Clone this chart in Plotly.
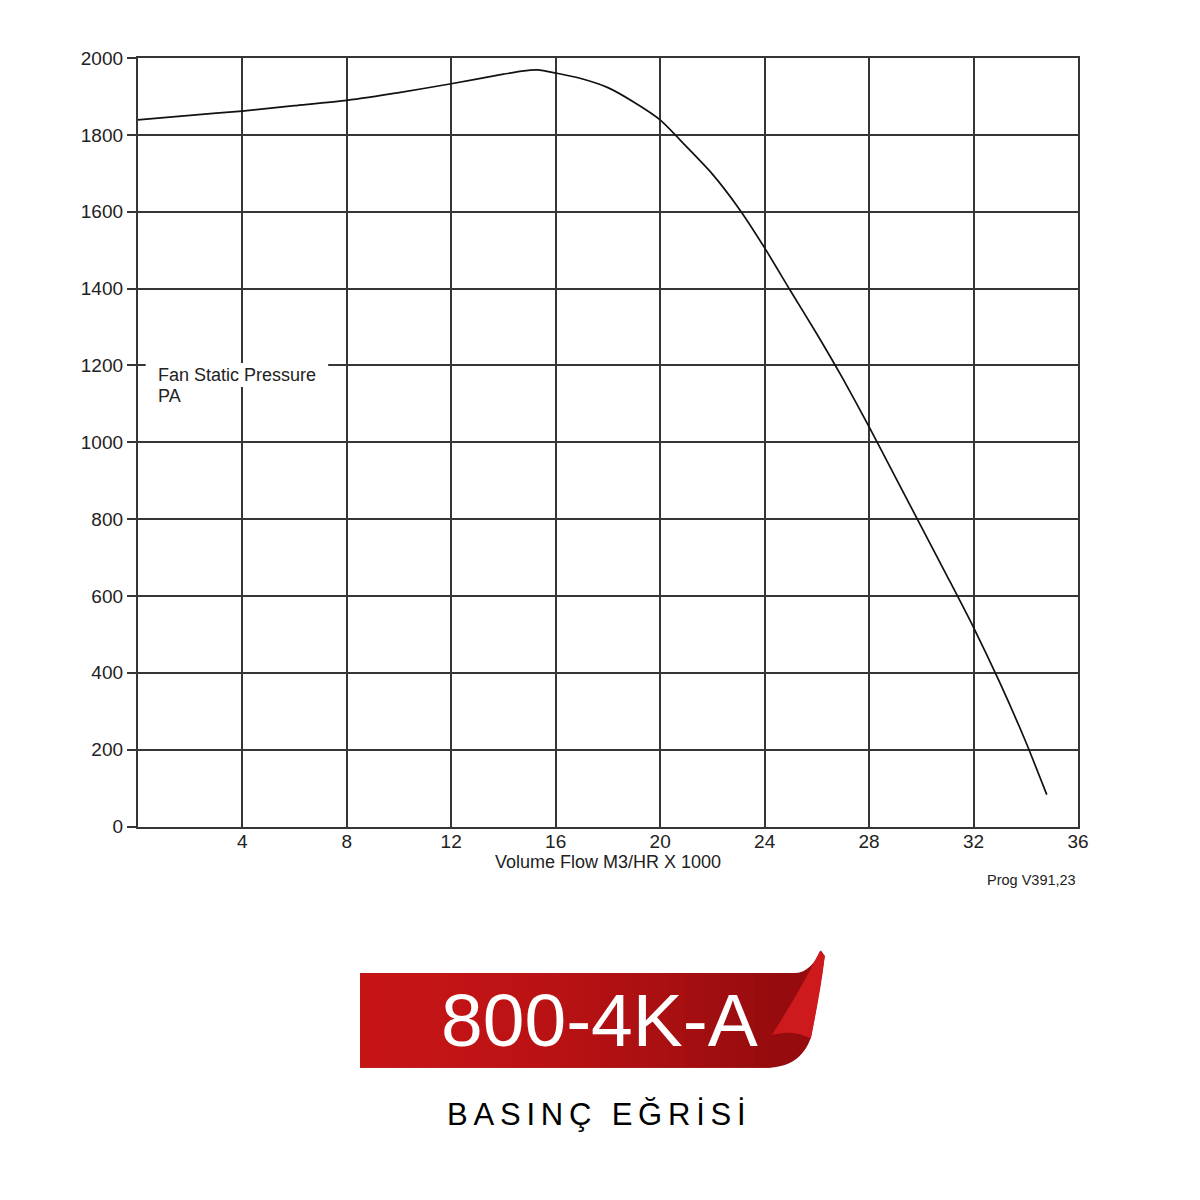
import plotly.graph_objects as go

# --- data ---
flow = [0, 2, 4, 6, 8, 10, 12, 14, 14.7, 15.3, 16, 17, 18, 19, 20, 21,
        22, 23, 24, 25, 26, 27, 28, 29, 30, 31, 32, 33, 34, 34.8]
pressure = [1839, 1851, 1862, 1876, 1890, 1910, 1933, 1958, 1966, 1969,
            1961, 1946, 1923, 1885, 1839, 1770, 1698, 1610, 1506, 1393, 1282,
            1165, 1040, 910, 780, 650, 518, 375, 220, 83]

x_ticks = [4, 8, 12, 16, 20, 24, 28, 32, 36]
y_ticks = [0, 200, 400, 600, 800, 1000, 1200, 1400, 1600, 1800, 2000]

x_title = "Volume Flow M3/HR X 1000"
y_label = ["Fan Static Pressure", "PA"]
prog_note = "Prog V391,23"
model = "800-4K-A"
subtitle = "BASINÇ EĞRİSİ"

W = H = 1200
FONT = "Liberation Sans, Arial, sans-serif"
GRID = "#363636"

# the photographed page comes out slightly scaled/shifted; undo that here
SX, OX = 0.9936, -1.1
SY, OY = 0.9857, 8.8


def px(X):
    return ((X - OX) / SX) / W


def py(Y):
    return 1 - ((Y - OY) / SY) / H


def path(pts):
    # pts: list of (cmd, [x, y, ...]) in pixels -> svg path in paper coords
    out = []
    for cmd, vals in pts:
        coords = []
        for i in range(0, len(vals), 2):
            coords.append(f"{px(vals[i]):.5f},{py(vals[i + 1]):.5f}")
        out.append(cmd + " " + " ".join(coords))
    return " ".join(out) + " Z"


fig = go.Figure()
fig.add_trace(go.Scatter(
    x=flow, y=pressure, mode="lines",
    line=dict(color="#111111", width=1.7, shape="spline", smoothing=0.6),
    hoverinfo="skip", showlegend=False,
))

shapes = []
# white patch behind the axis caption
shapes.append(dict(
    type="rect", xref="paper", yref="paper", line=dict(width=0),
    fillcolor="white", layer="above",
    x0=px(145), x1=px(328), y0=py(387), y1=py(363),
))

# --- red ribbon banner ---
shapes.append(dict(
    type="path", xref="paper", yref="paper", line=dict(width=0),
    fillcolor="rgb(150,12,14)",
    path=path([("M", [360, 975]), ("L", [795, 975]),
               ("C", [808, 975, 816, 965, 822, 952]),
               ("L", [826, 958]),
               ("C", [822, 985, 817, 1015, 812, 1040]),
               ("C", [805, 1060, 790, 1070, 768, 1070]),
               ("L", [360, 1070])]),
))
n = 24
x0, x1 = 360, 772
c0, c1 = (198, 20, 22), (152, 12, 14)
for i in range(n):
    t = i / (n - 1)
    t = t ** 1.6
    col = tuple(round(c0[k] + (c1[k] - c0[k]) * t) for k in range(3))
    a = x0 + (x1 - x0) * i / n
    b = x0 + (x1 - x0) * (i + 1) / n + 0.6
    shapes.append(dict(
        type="rect", xref="paper", yref="paper", line=dict(width=0),
        fillcolor=f"rgb{col}",
        x0=px(a), x1=px(b), y0=py(1070), y1=py(975),
    ))
# peeled corner
shapes.append(dict(
    type="path", xref="paper", yref="paper", line=dict(width=0),
    fillcolor="rgb(206,26,28)",
    path=path([("M", [821, 953]),
               ("C", [805, 985, 790, 1010, 773, 1037]),
               ("C", [790, 1033, 802, 1035, 812, 1041]),
               ("C", [818, 1010, 823, 985, 826, 958])]),
))

annotations = [
    dict(text=y_label[0], x=px(155), y=py(375), xref="paper", yref="paper",
         xanchor="left", yanchor="middle", showarrow=False,
         font=dict(family=FONT, size=18, color="#222222")),
    dict(text=y_label[1], x=px(155), y=py(396), xref="paper", yref="paper",
         xanchor="left", yanchor="middle", showarrow=False,
         font=dict(family=FONT, size=18, color="#222222")),
    dict(text=x_title, x=px(609), y=py(864), xref="paper", yref="paper",
         xanchor="center", yanchor="middle", showarrow=False,
         font=dict(family=FONT, size=18, color="#222222")),
    dict(text=prog_note, x=px(1080), y=py(882), xref="paper", yref="paper",
         xanchor="right", yanchor="middle", showarrow=False,
         font=dict(family=FONT, size=14.5, color="#222222")),
    dict(text=model, x=px(600), y=py(1022), xref="paper", yref="paper",
         xanchor="center", yanchor="middle", showarrow=False,
         font=dict(family=FONT, size=75, color="white")),
    dict(text=f'<span style="letter-spacing:5.8px">{subtitle}</span>',
         x=px(600), y=py(1117), xref="paper", yref="paper",
         xanchor="center", yanchor="middle", showarrow=False,
         font=dict(family=FONT, size=31, color="black")),
]

fig.update_layout(
    width=W, height=H,
    margin=dict(l=0, r=0, t=0, b=0),
    paper_bgcolor="white", plot_bgcolor="white",
    shapes=shapes, annotations=annotations,
    xaxis=dict(
        domain=[px(137), px(1080)], range=[0, 36],
        tickvals=x_ticks, ticktext=[str(v) for v in x_ticks],
        showgrid=True, gridcolor=GRID, gridwidth=1.5,
        showline=True, linecolor=GRID, linewidth=1.7, mirror=True,
        ticks="", zeroline=False, ticklabelstandoff=-3,
        tickfont=dict(family=FONT, size=19, color="#222222"),
    ),
    yaxis=dict(
        domain=[py(828), py(57)], range=[0, 2000],
        tickvals=y_ticks, ticktext=[str(v) for v in y_ticks],
        showgrid=True, gridcolor=GRID, gridwidth=1.5,
        showline=True, linecolor=GRID, linewidth=1.7, mirror=True,
        ticks="outside", ticklen=9, tickcolor=GRID, tickwidth=1.5,
        zeroline=False, ticklabelstandoff=0,
        tickfont=dict(family=FONT, size=19, color="#222222"),
    ),
)

pin = (
    "document.documentElement.style.margin='0';"
    "document.body.style.margin='0';"
    "document.body.style.overflow='hidden';"
)
fig.write_html("out.html", config={"displayModeBar": False}, post_script=pin)
